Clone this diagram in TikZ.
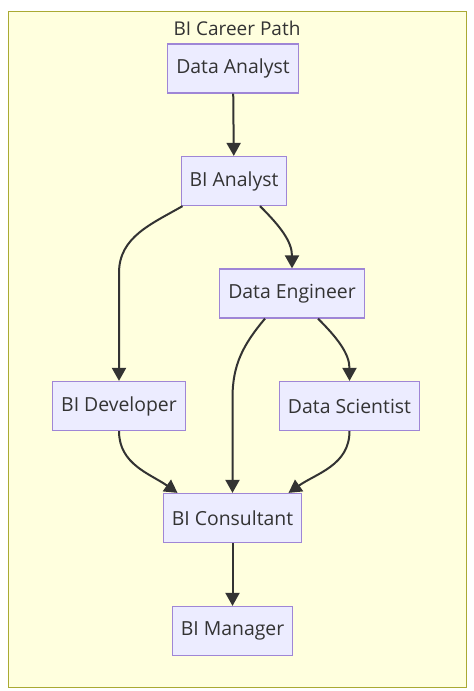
\documentclass[tikz,border=0pt]{standalone}
\usepackage{fontspec}
\setmainfont{Open Sans}
\usetikzlibrary{arrows.meta}
\definecolor{boxfill}{HTML}{ECECFF}
\definecolor{boxline}{HTML}{9F86D6}
\definecolor{groupfill}{HTML}{FFFFDE}
\definecolor{groupline}{HTML}{AAAA33}
\definecolor{inkgrey}{HTML}{333333}
\begin{document}
\begin{tikzpicture}[x=1pt, y=1pt, node distance=112.5pt,
    role/.style={draw=boxline, fill=boxfill, line width=1.2pt, text=inkgrey,
        minimum height=49pt, inner xsep=8.5pt, font=\fontsize{19.4}{23}\selectfont},
    flow/.style={draw=inkgrey, line width=2pt, -{Triangle[length=13pt, width=14pt]}}]
    \useasboundingbox (0,0) rectangle (474,691);
    \draw[draw=groupline, fill=groupfill, line width=1pt] (8,3) rectangle (466,679);
    \node[text=inkgrey, font=\fontsize{19}{23}\selectfont] (title) at (237,663) {BI Career Path};

    \node[role] (da) at (233,622.5) {Data Analyst};
    \node[role] (bian) [below of=da, xshift=1pt] {BI Analyst};
    \node[role] (deng) [below of=bian, xshift=58pt] {Data Engineer};
    \node[role] (bidev) [below of=deng, xshift=-173pt] {BI Developer};
    \node[role] (dsci) [below of=deng, xshift=57.5pt] {Data Scientist};
    \node[role] (bicon) [below of=bidev, xshift=113.5pt, yshift=0.5pt] {BI Consultant};
    \node[role] (biman) [below of=bicon, yshift=-0.5pt] {BI Manager};

    \draw[flow] (da) -- (bian);
    \draw[flow] ([xshift=2pt]bian.south west) to[out=-150, in=90] ([yshift=108pt]bidev.north) -- (bidev.north);
    \draw[flow] ([xshift=26pt]bian.south) to[out=-45, in=90] (deng.north);
    \draw[flow] ([xshift=-27pt]deng.south) to[out=-130, in=90] ([yshift=95pt]bicon.north) -- (bicon.north);
    \draw[flow] ([xshift=26pt]deng.south) to[out=-45, in=90] (dsci.north);
    \draw[flow] (bidev.south) to[out=-90, in=145] ([xshift=-55pt]bicon.north);
    \draw[flow] (dsci.south) to[out=-90, in=35] ([xshift=56pt]bicon.north);
    \draw[flow] (bicon) -- (biman);
\end{tikzpicture}
\end{document}
